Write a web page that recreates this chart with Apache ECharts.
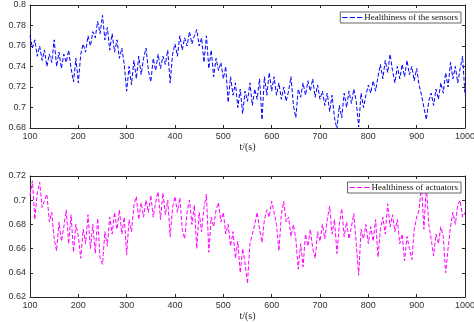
<!DOCTYPE html>
<html>
<head>
<meta charset="utf-8">
<script src="https://cdn.jsdelivr.net/npm/echarts@6/dist/echarts.min.js"></script>
<style>html,body{margin:0;padding:0;background:#fff;}#c{width:474px;height:322px;}</style>
</head>
<body>
<div id="c"></div>
<script>
// time axis: 100..1000 s, step 5 s
var tStart = 100, tStep = 5;
var xTicks = [100,200,300,400,500,600,700,800,900,1000];
var sensorTicks = [0.68,0.7,0.72,0.74,0.76,0.78,0.8];
var actuatorTicks = [0.62,0.64,0.66,0.68,0.7,0.72];
var sensorName = 'Healthiness of the sensors';
var actuatorName = 'Healthiness of actuators';

var sensors = [
0.770,0.758,0.766,0.750,0.760,0.746,0.756,0.740,0.752,0.744,
0.766,0.740,0.754,0.738,0.752,0.744,0.756,0.738,0.725,0.748,
0.724,0.752,0.762,0.754,0.770,0.760,0.774,0.768,0.784,0.772,
0.790,0.766,0.778,0.756,0.772,0.754,0.766,0.748,0.758,0.742,
0.716,0.740,0.722,0.746,0.728,0.750,0.732,0.748,0.758,0.736,
0.725,0.748,0.736,0.752,0.738,0.750,0.742,0.756,0.724,0.752,
0.762,0.750,0.770,0.756,0.768,0.760,0.774,0.762,0.770,0.776,
0.760,0.768,0.744,0.770,0.738,0.756,0.730,0.748,0.736,0.744,
0.728,0.740,0.705,0.730,0.712,0.724,0.700,0.718,0.694,0.716,
0.706,0.724,0.702,0.718,0.708,0.728,0.688,0.730,0.712,0.734,
0.716,0.730,0.712,0.724,0.708,0.720,0.706,0.716,0.730,0.702,
0.690,0.718,0.710,0.724,0.712,0.726,0.716,0.728,0.710,0.722,
0.708,0.716,0.702,0.714,0.696,0.712,0.690,0.679,0.702,0.690,
0.714,0.700,0.716,0.704,0.718,0.706,0.681,0.714,0.700,0.712,
0.722,0.714,0.726,0.716,0.730,0.742,0.728,0.746,0.734,0.752,
0.736,0.724,0.740,0.728,0.742,0.730,0.746,0.732,0.740,0.726,
0.738,0.722,0.712,0.700,0.688,0.706,0.714,0.702,0.718,0.708,
0.724,0.714,0.734,0.720,0.744,0.728,0.740,0.724,0.738,0.750,0.712
];

var actuators = [
0.704,0.716,0.684,0.706,0.715,0.694,0.700,0.705,0.682,0.690,
0.668,0.658,0.682,0.666,0.678,0.692,0.664,0.688,0.657,0.680,
0.670,0.652,0.676,0.664,0.688,0.660,0.680,0.656,0.685,0.652,
0.647,0.674,0.662,0.686,0.672,0.690,0.676,0.692,0.672,0.686,
0.655,0.684,0.674,0.696,0.703,0.684,0.698,0.686,0.700,0.690,
0.704,0.686,0.698,0.707,0.684,0.706,0.688,0.700,0.670,0.694,
0.703,0.690,0.702,0.676,0.668,0.690,0.700,0.680,0.696,0.660,
0.690,0.674,0.694,0.705,0.657,0.686,0.678,0.692,0.698,0.682,
0.690,0.672,0.680,0.662,0.674,0.652,0.666,0.640,0.660,0.648,
0.631,0.664,0.672,0.680,0.690,0.676,0.665,0.684,0.692,0.686,
0.699,0.690,0.680,0.658,0.688,0.699,0.682,0.686,0.670,0.680,
0.668,0.643,0.664,0.645,0.672,0.662,0.676,0.660,0.652,0.674,
0.666,0.680,0.668,0.684,0.695,0.672,0.684,0.656,0.680,0.693,
0.670,0.682,0.668,0.678,0.689,0.664,0.638,0.676,0.668,0.680,
0.664,0.678,0.666,0.684,0.653,0.676,0.686,0.672,0.697,0.678,
0.688,0.674,0.684,0.664,0.672,0.650,0.670,0.660,0.651,0.676,
0.686,0.692,0.713,0.676,0.712,0.680,0.668,0.654,0.672,0.664,
0.678,0.670,0.640,0.660,0.678,0.690,0.680,0.696,0.700,0.686,0.690
];

function pairs(arr){ return arr.map(function(v,i){ return [tStart + i*tStep, v]; }); }

var axisCol = '#262626';
var labCol = '#333';
var sans = 'Liberation Sans, Arial, sans-serif';
var serif = 'Liberation Serif, Times New Roman, serif';
var dashIcon = 'path://M0,0H5V1H0Z M7,0H12V1H7Z M14,0H19V1H14Z';

function xAx(gi){
  return {
    type:'value', gridIndex:gi, min:xTicks[0], max:xTicks[xTicks.length-1], interval:100,
    name:'t/(s)', nameLocation:'middle', nameGap:13,
    nameTextStyle:{fontFamily:serif, fontSize:10, color:axisCol},
    axisLine:{show:true, lineStyle:{color:axisCol, width:1}},
    axisTick:{show:true, inside:true, length:3, lineStyle:{color:axisCol}},
    axisLabel:{fontFamily:sans, fontSize:9, color:labCol, margin:4, formatter:function(v){return String(v);}},
    splitLine:{show:false}
  };
}
function xTop(gi){
  return {
    type:'value', gridIndex:gi, position:'top', min:xTicks[0], max:xTicks[xTicks.length-1], interval:100,
    axisLine:{show:true, lineStyle:{color:axisCol, width:1}},
    axisTick:{show:true, inside:true, length:3, lineStyle:{color:axisCol}},
    axisLabel:{show:false}, splitLine:{show:false}
  };
}
function yAx(gi, ticks){
  return {
    type:'value', gridIndex:gi, min:ticks[0], max:ticks[ticks.length-1], interval:0.02,
    name:'Healthiness', nameLocation:'middle', nameGap:21,
    nameTextStyle:{fontFamily:serif, fontSize:10, color:axisCol},
    axisLine:{show:true, lineStyle:{color:axisCol, width:1}},
    axisTick:{show:true, inside:true, length:3, lineStyle:{color:axisCol}},
    axisLabel:{fontFamily:sans, fontSize:9, color:labCol, margin:4},
    splitLine:{show:false}
  };
}
function yRight(gi, ticks){
  return {
    type:'value', gridIndex:gi, position:'right', min:ticks[0], max:ticks[ticks.length-1], interval:0.02,
    axisLine:{show:true, lineStyle:{color:axisCol, width:1}},
    axisTick:{show:true, inside:true, length:3, lineStyle:{color:axisCol}},
    axisLabel:{show:false}, splitLine:{show:false}
  };
}
function leg(name, right, top){
  return {data:[name], right:right, top:top, orient:'vertical', backgroundColor:'#fff',
     borderColor:'#666', borderWidth:1, borderRadius:0, padding:[1,3,1,2],
     icon:dashIcon, itemWidth:20, itemHeight:1.2, itemGap:2,
     textStyle:{fontFamily:serif, fontSize:9, color:'#111', padding:[0,0,0,-3]}};
}

var chart = echarts.init(document.getElementById('c'), null, {renderer:'canvas'});
chart.setOption({
  animation:false,
  backgroundColor:'#fff',
  grid:[
    {left:30, right:9, top:5, height:123, outerBoundsMode:'none', containLabel:false},
    {left:30, right:9, top:176, height:121, outerBoundsMode:'none', containLabel:false}
  ],
  xAxis:[xAx(0), xAx(1), xTop(0), xTop(1)],
  yAxis:[yAx(0, sensorTicks), yAx(1, actuatorTicks), yRight(0, sensorTicks), yRight(1, actuatorTicks)],
  legend:[leg(sensorName, 13, 12), leg(actuatorName, 13, 182)],
  series:[
    {name:sensorName, type:'line', xAxisIndex:0, yAxisIndex:0, data:pairs(sensors),
     symbol:'none', lineStyle:{color:'#0000ff', width:1, type:[4,2]}, itemStyle:{color:'#0000ff'}},
    {name:actuatorName, type:'line', xAxisIndex:1, yAxisIndex:1, data:pairs(actuators),
     symbol:'none', lineStyle:{color:'#ff00ff', width:1, type:[4,2]}, itemStyle:{color:'#ff00ff'}}
  ]
});
</script>
</body>
</html>
